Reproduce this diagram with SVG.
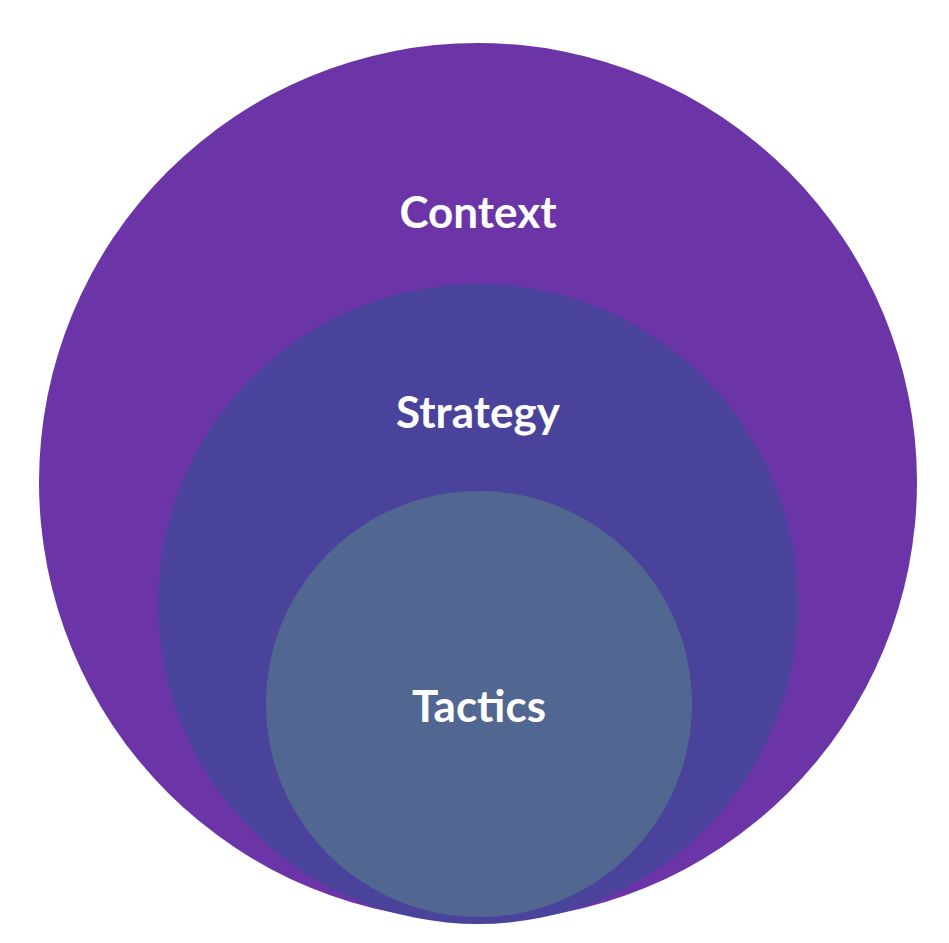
<svg xmlns="http://www.w3.org/2000/svg" width="949" height="943" viewBox="0 0 949 943">
<style>text{font-family:"Lato","Liberation Sans",sans-serif;font-weight:bold;font-size:44px;fill:#fff;text-anchor:middle}</style>
<rect width="949" height="943" fill="#fff"/>
<g id="context"><circle cx="478" cy="482" r="439" fill="#6C35A7"/><text x="478" y="228">Context</text></g>
<g id="strategy"><circle cx="478" cy="604" r="320" fill="#4A439C"/><text x="478" y="428">Strategy</text></g>
<g id="tactics"><circle cx="479" cy="704" r="213" fill="#526692"/><text x="479" y="722">Tactics</text></g>
<g id="connectors"/>
</svg>
